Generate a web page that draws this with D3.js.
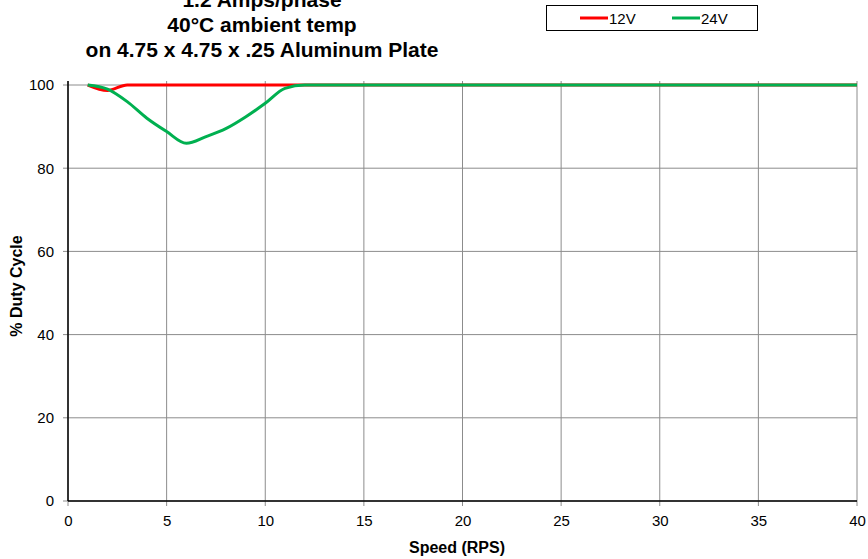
<!DOCTYPE html>
<html>
<head>
<meta charset="utf-8">
<script src="https://cdn.jsdelivr.net/npm/d3@7"></script>
<style>
  body { margin: 0; background: #fff; }
  text { font-family: "Liberation Sans", Arial, sans-serif; }
</style>
</head>
<body>
<div id="chart"></div>
<script>
// data
var titleLines = ["1.2 Amps/phase", "40°C ambient temp", "on 4.75 x 4.75 x .25 Aluminum Plate"];
var seriesNames = ["12V", "24V"];
var seriesColors = ["#ff0000", "#00b050"];
var speed12 = [1, 2, 3, 4, 5, 10, 15, 20, 25, 30, 35, 40];
var duty12  = [100, 98.7, 100, 100, 100, 100, 100, 100, 100, 100, 100, 100];
var speed24 = [1, 2, 3, 4, 5, 6, 7, 8, 9, 10, 11, 12, 13, 15, 20, 25, 30, 35, 40];
var duty24  = [100, 99, 96, 92, 88.8, 86, 87.6, 89.5, 92.3, 95.6, 99.2, 100, 100, 100, 100, 100, 100, 100, 100];
var xTicks = [0, 5, 10, 15, 20, 25, 30, 35, 40];
var yTicks = [0, 20, 40, 60, 80, 100];

var width = 868, height = 559;
var margin = {top: 85, right: 11, bottom: 58, left: 68};
var plotTop = 81; // plot box sits a little above the 100 line

var svg = d3.select("#chart")
  .append("svg")
  .attr("width", width)
  .attr("height", height);

var x = d3.scaleLinear()
  .domain([0, 40])
  .range([margin.left, width - margin.right]);

var y = d3.scaleLinear()
  .domain([0, 100])
  .range([height - margin.bottom, margin.top]);

// grid lines
svg.append("g")
  .selectAll("line")
  .data(yTicks)
  .enter()
  .append("line")
    .attr("x1", margin.left - 5)
    .attr("x2", x(40))
    .attr("y1", function(d) { return y(d); })
    .attr("y2", function(d) { return y(d); })
    .attr("stroke", "#8c8c8c")
    .attr("stroke-width", 1);

svg.append("g")
  .selectAll("line")
  .data(xTicks)
  .enter()
  .append("line")
    .attr("x1", function(d) { return x(d); })
    .attr("x2", function(d) { return x(d); })
    .attr("y1", plotTop)
    .attr("y2", y(0) + 5)
    .attr("stroke", "#8c8c8c")
    .attr("stroke-width", 1);

// axes (labels only, lines drawn by hand below)
var yAxis = svg.append("g")
  .attr("transform", "translate(" + margin.left + ",0)")
  .call(d3.axisLeft(y).tickValues(yTicks).tickSize(0).tickPadding(14));
yAxis.select(".domain").remove();
yAxis.selectAll("text")
  .style("font-size", "15px")
  .attr("fill", "#000");

var xAxis = svg.append("g")
  .attr("transform", "translate(0," + y(0) + ")")
  .call(d3.axisBottom(x).tickValues(xTicks).tickSize(0).tickPadding(14));
xAxis.select(".domain").remove();
xAxis.selectAll("text")
  .style("font-size", "15px")
  .attr("fill", "#000");

svg.append("line")
  .attr("x1", margin.left).attr("x2", margin.left)
  .attr("y1", plotTop).attr("y2", y(0))
  .attr("stroke", "#000").attr("stroke-width", 1.5);

svg.append("line")
  .attr("x1", margin.left).attr("x2", x(40))
  .attr("y1", y(0)).attr("y2", y(0))
  .attr("stroke", "#000").attr("stroke-width", 1.5);

// lines
var line = d3.line()
  .x(function(d) { return x(d[0]); })
  .y(function(d) { return y(d[1]); })
  .curve(d3.curveMonotoneX);

var data12 = speed12.map(function(s, i) { return [s, duty12[i]]; });
var data24 = speed24.map(function(s, i) { return [s, duty24[i]]; });

svg.append("path")
  .datum(data12)
  .attr("d", line)
  .attr("fill", "none")
  .attr("stroke", seriesColors[0])
  .attr("stroke-width", 3);

svg.append("path")
  .datum(data24)
  .attr("d", line)
  .attr("fill", "none")
  .attr("stroke", seriesColors[1])
  .attr("stroke-width", 3);

// title (first line is cut by the top edge, as in the picture)
svg.append("g")
  .selectAll("text")
  .data(titleLines)
  .enter()
  .append("text")
    .attr("x", 262)
    .attr("y", function(d, i) { return 7 + i * 25; })
    .attr("text-anchor", "middle")
    .style("font-size", "21px")
    .style("font-weight", "bold")
    .text(function(d) { return d; });

// axis titles
svg.append("text")
  .attr("x", 457)
  .attr("y", 553)
  .attr("text-anchor", "middle")
  .style("font-size", "16px")
  .style("font-weight", "bold")
  .text("Speed (RPS)");

svg.append("text")
  .attr("transform", "translate(22," + 286 + ") rotate(-90)")
  .attr("text-anchor", "middle")
  .style("font-size", "16px")
  .style("font-weight", "bold")
  .text("% Duty Cycle");

// legend
var legend = svg.append("g");
legend.append("rect")
  .attr("x", 546.5).attr("y", 5.5)
  .attr("width", 211).attr("height", 25)
  .attr("fill", "#fff")
  .attr("stroke", "#000")
  .attr("stroke-width", 1);

var legendX = [580, 672];
seriesNames.forEach(function(name, i) {
  legend.append("line")
    .attr("x1", legendX[i]).attr("x2", legendX[i] + 28)
    .attr("y1", 18).attr("y2", 18)
    .attr("stroke", seriesColors[i])
    .attr("stroke-width", 3);
  legend.append("text")
    .attr("x", legendX[i] + 29)
    .attr("y", 23.5)
    .style("font-size", "15px")
    .text(name);
});
</script>
</body>
</html>
